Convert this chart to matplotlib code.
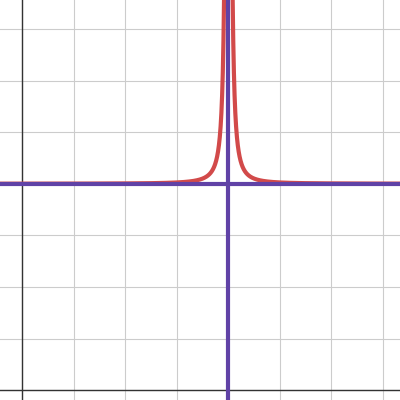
import numpy as np
import matplotlib
matplotlib.use("Agg")
import matplotlib.pyplot as plt

x_range = [-0.43, 7.33]
y_range = [-0.19, 7.56]
center_x = 4.0
center_y = 4.0
coef = 0.025

fig = plt.figure(figsize=(4, 4), dpi=100)
ax = fig.add_axes([0, 0, 1, 1])
ax.set_xlim(*x_range)
ax.set_ylim(*y_range)
for v in range(0, 8):
    ax.axvline(v, color="#cccccc", lw=0.8, zorder=0)
    ax.axhline(v, color="#cccccc", lw=0.8, zorder=0)
ax.axvline(0, color="#333333", lw=1, zorder=1)
ax.axhline(0, color="#333333", lw=1, zorder=1)

for side in (-1, 1):
    d = np.geomspace(0.01, 5, 600)
    xs = center_x + side * d
    ys = center_y + coef / d**2
    ax.plot(xs, ys, color="#d24a4a", lw=3, zorder=2)

ax.axvline(center_x, color="#6042a6", lw=3, zorder=3)
ax.axhline(center_y, color="#6042a6", lw=3, zorder=3)
ax.set_xticks([]); ax.set_yticks([])
for s in ax.spines.values():
    s.set_visible(False)
fig.savefig("out.png")
